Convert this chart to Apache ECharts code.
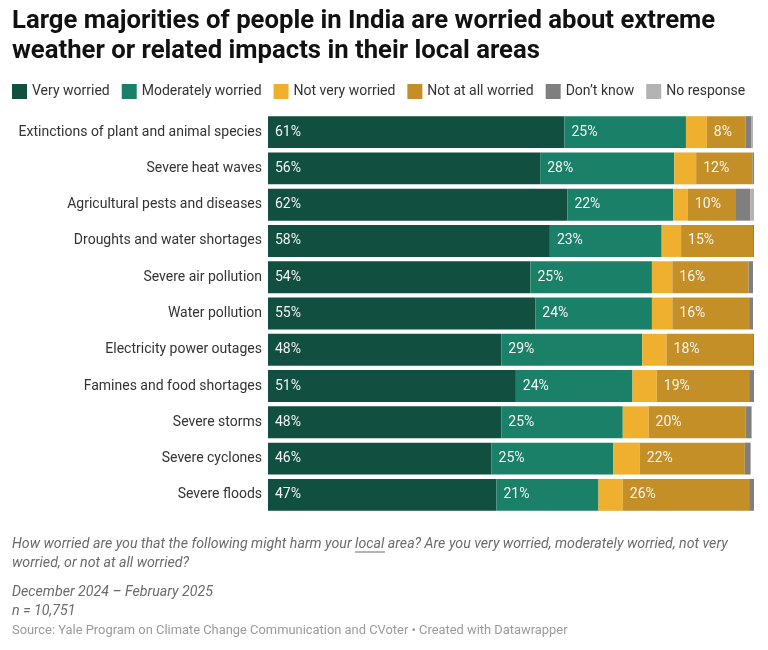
<!DOCTYPE html>
<html>
<head>
<meta charset="utf-8">
<script src="https://cdn.jsdelivr.net/npm/echarts@6/dist/echarts.min.js"></script>
<style>
  html, body { margin: 0; padding: 0; background: #fff; }
  #chart { width: 768px; height: 650px; }
</style>
</head>
<body>
<div id="chart"></div>
<script>
const categories = [
  'Extinctions of plant and animal species',
  'Severe heat waves',
  'Agricultural pests and diseases',
  'Droughts and water shortages',
  'Severe air pollution',
  'Water pollution',
  'Electricity power outages',
  'Famines and food shortages',
  'Severe storms',
  'Severe cyclones',
  'Severe floods'
]
const veryWorried = [61, 56, 61.6, 58, 54, 55, 48, 51, 48, 46, 47]
const moderatelyWorried = [25, 27.6, 21.8, 23, 25, 24, 29, 24, 25, 25, 21]
const notVeryWorried = [4.3, 4.5, 3, 4, 4.2, 4.2, 5, 5, 5.3, 5.5, 5]
const notAtAllWorried = [8, 11.6, 9.9, 14.8, 15.7, 15.8, 17.8, 19, 20, 21.6, 26]
const dontKnow = [1.2, 0.8, 2.9, 0.5, 0.9, 0.8, 0.5, 1, 1.2, 1.2, 1]
const noResponse = [0.3, 0, 0.8, 0, 0, 0, 0, 0, 0, 0, 0]

const font = 'Roboto'

const chart = echarts.init(document.getElementById('chart'))

function seg(name, data, color, showLabel) {
  return {
    name: name,
    type: 'bar',
    stack: 'total',
    barCategoryGap: '12%',
    itemStyle: { color: color },
    label: {
      show: showLabel,
      position: 'insideLeft',
      distance: 7,
      color: '#f4f4f4',
      fontFamily: font,
      fontSize: 14,
      formatter: (p) => Math.round(p.value) + '%'
    },
    emphasis: { disabled: true },
    data: data
  }
}

chart.setOption({
  animation: false,
  textStyle: { fontFamily: font },
  title: {
    left: 12,
    top: 7,
    padding: 0,
    text: 'Large majorities of people in India are worried about extreme\nweather or related impacts in their local areas',
    textStyle: {
      fontFamily: font,
      fontSize: 25.7,
      fontWeight: 'bold',
      lineHeight: 30,
      color: '#111'
    }
  },
  legend: {
    left: 12,
    top: 84,
    width: 756,
    padding: 0,
    itemWidth: 15,
    itemHeight: 15,
    itemGap: 12,
    icon: 'rect',
    textStyle: { fontFamily: font, fontSize: 14, color: '#333' },
    data: ['Very worried', 'Moderately worried', 'Not very worried', 'Not at all worried', 'Don\u2019t know', 'No response']
  },
  grid: {
    left: 268,
    right: 14,
    top: 114,
    bottom: 137
  },
  xAxis: {
    type: 'value',
    min: 0,
    max: 100,
    show: false
  },
  yAxis: {
    type: 'category',
    inverse: true,
    data: categories,
    axisLine: { show: false },
    axisTick: { show: false },
    axisLabel: { color: '#333', fontSize: 14, fontFamily: font, margin: 6 }
  },
  series: [
    seg('Very worried', veryWorried, '#114f40', true),
    seg('Moderately worried', moderatelyWorried, '#1a8067', true),
    seg('Not very worried', notVeryWorried, '#efb02f', false),
    seg('Not at all worried', notAtAllWorried, '#c48f27', true),
    seg('Don\u2019t know', dontKnow, '#7f7f7f', false),
    seg('No response', noResponse, '#b3b3b3', false)
  ],
  graphic: [
    {
      type: 'text',
      left: 12,
      top: 535,
      style: {
        text: 'How worried are you that the following might harm your local area? Are you very worried, moderately worried, not very\nworried, or not at all worried?',
        fontFamily: font,
        fontSize: 14.2,
        fontStyle: 'italic',
        lineHeight: 19,
        fill: '#6b6b6b'
      }
    },
    {
      // underline under "local"
      type: 'line',
      shape: { x1: 355, y1: 552, x2: 385, y2: 552 },
      style: { stroke: '#6b6b6b', lineWidth: 1 }
    },
    {
      type: 'text',
      left: 12,
      top: 583,
      style: {
        text: 'December 2024 \u2013 February 2025\nn = 10,751',
        fontFamily: font,
        fontSize: 14.2,
        fontStyle: 'italic',
        lineHeight: 19,
        fill: '#6b6b6b'
      }
    },
    {
      type: 'text',
      left: 12,
      top: 624,
      style: {
        text: 'Source: Yale Program on Climate Change Communication and CVoter \u2022 Created with Datawrapper',
        fontFamily: font,
        fontSize: 12.9,
        fill: '#9a9a9a'
      }
    }
  ]
})
</script>
</body>
</html>
